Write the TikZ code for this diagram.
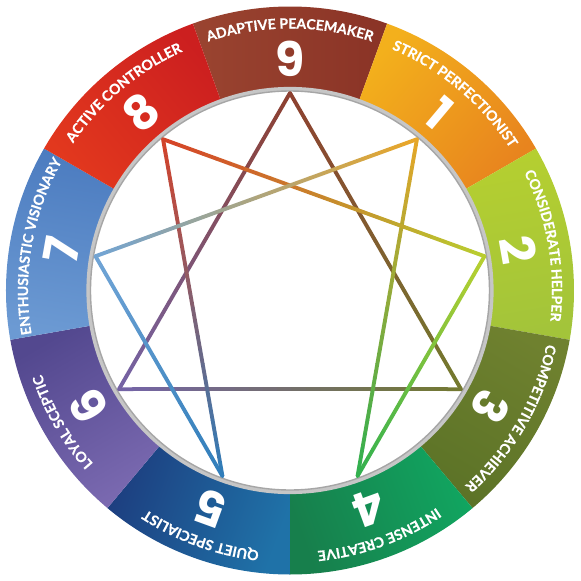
\documentclass[tikz,border=0pt]{standalone}
\usepackage{fontspec}
\setmainfont{Lato}
\newfontfamily\numfont{Poppins}
\newfontfamily\labelfamily{Lato}[BoldFeatures={FakeBold=0.6}]
\usetikzlibrary{calc,decorations.text}

% ring colours (a = counterclockwise end, b = clockwise end)
\definecolor{ring9a}{HTML}{9A4430}\definecolor{ring9b}{HTML}{8A3326}
\definecolor{ring1a}{HTML}{F3B01C}\definecolor{ring1b}{HTML}{E8841E}
\definecolor{ring2a}{HTML}{B5CF30}\definecolor{ring2b}{HTML}{A3C43A}
\definecolor{ring3a}{HTML}{6F812F}\definecolor{ring3b}{HTML}{5C7327}
\definecolor{ring4a}{HTML}{11A560}\definecolor{ring4b}{HTML}{177F4C}
\definecolor{ring5a}{HTML}{1F72A8}\definecolor{ring5b}{HTML}{1D3F80}
\definecolor{ring6a}{HTML}{7A69B0}\definecolor{ring6b}{HTML}{53488F}
\definecolor{ring7a}{HTML}{6C9AD3}\definecolor{ring7b}{HTML}{4C7CC0}
\definecolor{ring8a}{HTML}{E2381E}\definecolor{ring8b}{HTML}{CC1F1F}
% line colours at the points
\definecolor{v9}{HTML}{8E4030}\definecolor{v1}{HTML}{E9A628}
\definecolor{v2}{HTML}{B9D030}\definecolor{v3}{HTML}{737A2E}
\definecolor{v4}{HTML}{2FB050}\definecolor{v5}{HTML}{2F7DBA}
\definecolor{v6}{HTML}{7464A8}\definecolor{v7}{HTML}{70A4D6}
\definecolor{v8}{HTML}{D64228}

\tikzset{
  numlabel/.style={text=white, font=\numfont\fontsize{27}{27}\selectfont\bfseries, inner sep=0pt},
  figline/.style={line width=2.2pt, line cap=round},
}
\newcommand{\labelfont}{\labelfamily\fontsize{8}{9}\selectfont\bfseries\color{white}}

% one part of the ring: angle, colour a, colour b, number, label
\newcommand{\ringpart}[5]{%
  \path[top color=#2, bottom color=#3, shading angle=#1]
    ({#1+20}:5.68) arc[start angle={#1+20}, end angle={#1-20}, radius=5.68]
    -- ({#1-20}:4.02) arc[start angle={#1-20}, end angle={#1+20}, radius=4.02] -- cycle;
  \node[numlabel, rotate={#1-90}] (n#4) at (#1:4.64) {#4};
  \path[decorate, decoration={text along path, text={|\labelfont|#5}, text align=center}]
    ({#1+22}:5.24) arc[start angle={#1+22}, end angle={#1-22}, radius=5.24];
}

% a line that runs from one colour to the other
\newcommand{\gradline}[4]{%
  \foreach \k in {1,...,24}{
    \pgfmathsetmacro{\pa}{(\k-1)/24}
    \pgfmathsetmacro{\pb}{\k/24}
    \pgfmathtruncatemacro{\mix}{100-100*(\k-0.5)/24}
    \draw[figline, color=#3!\mix!#4] ($(#1)!\pa!(#2)$) -- ($(#1)!\pb!(#2)$);
  }}

\begin{document}
\begin{tikzpicture}[x=1cm,y=1cm]
  \useasboundingbox (-5.80,-5.81) rectangle (5.82,5.81);
  \ringpart{90}{ring9a}{ring9b}{9}{ADAPTIVE PEACEMAKER}
  \ringpart{50}{ring1a}{ring1b}{1}{STRICT PERFECTIONIST}
  \ringpart{10}{ring2a}{ring2b}{2}{CONSIDERATE HELPER}
  \ringpart{-30}{ring3a}{ring3b}{3}{COMPETITIVE ACHIEVER}
  \ringpart{-70}{ring4a}{ring4b}{4}{INTENSE CREATIVE}
  \ringpart{-110}{ring5a}{ring5b}{5}{QUIET SPECIALIST}
  \ringpart{-150}{ring6a}{ring6b}{6}{LOYAL SCEPTIC}
  \ringpart{170}{ring7a}{ring7b}{7}{ENTHUSIASTIC VISIONARY}
  \ringpart{130}{ring8a}{ring8b}{8}{ACTIVE CONTROLLER}
  % inner disc
  \draw[gray!45, line width=2.4pt] (0,0) circle (4.03);
  \draw[fill=white, draw=gray!70, line width=0.8pt] (0,0) circle (3.99);
  % points of the figure
  \foreach \n in {1,...,9} \coordinate (p\n) at ({90-40*\n}:3.95);
  \gradline{p9}{p3}{v9}{v3}
  \gradline{p3}{p6}{v3}{v6}
  \gradline{p6}{p9}{v6}{v9}
  \gradline{p1}{p4}{v1}{v4}
  \gradline{p4}{p2}{v4}{v2}
  \gradline{p2}{p8}{v2}{v8}
  \gradline{p8}{p5}{v8}{v5}
  \gradline{p5}{p7}{v5}{v7}
  \gradline{p7}{p1}{v7}{v1}
\end{tikzpicture}
\end{document}
